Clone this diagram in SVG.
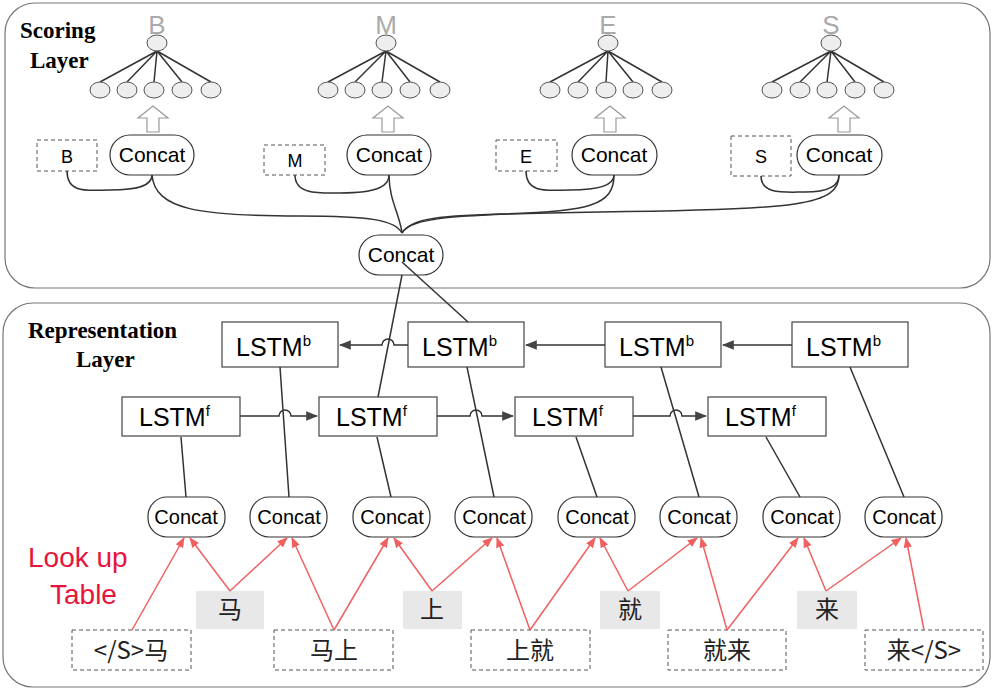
<svg xmlns="http://www.w3.org/2000/svg" width="995" height="690" viewBox="0 0 995 690">
<defs>
<marker id="ah" viewBox="0 0 10 10" refX="9" refY="5" markerWidth="8" markerHeight="8" orient="auto"><path d="M0,1 L10,5 L0,9 z" fill="#444"/></marker>
<marker id="ra" viewBox="0 0 10 10" refX="9" refY="5" markerWidth="7" markerHeight="7" orient="auto"><path d="M0,1 L10,5 L0,9 z" fill="#f06060"/></marker>
</defs>
<style>
.layer{fill:#fff;stroke:#777;stroke-width:1.2}
.t{font-family:"Liberation Sans",Arial,sans-serif;fill:#000}
.lt{font-family:"Liberation Serif",serif;font-weight:bold;font-size:23px}
.el{fill:#eee;stroke:#555;stroke-width:1}
.pill{fill:#fff;stroke:#333;stroke-width:1.2}
.dash{fill:#fff;stroke:#555;stroke-dasharray:4 3}
.box{fill:#fff;stroke:#444;stroke-width:1.2}
.ln{fill:none;stroke:#333;stroke-width:1.5}
.red{fill:none;stroke:#f06060;stroke-width:1.5;marker-end:url(#ra)}
.gray{fill:#e8e8e8}
.cjk{font-family:"Noto Sans CJK SC","Liberation Serif",serif;font-size:24px;fill:#222}
.up{fill:#fff;stroke:#999;stroke-width:1.2}
</style>
<rect class="layer" x="5" y="3" width="985" height="285" rx="30"/>
<rect class="layer" x="3" y="303" width="987" height="384" rx="30"/>
<text class="lt" x="20" y="38">Scoring</text>
<text class="lt" x="30" y="68">Layer</text>
<text class="lt" x="28" y="338">Representation</text>
<text class="lt" x="76" y="367">Layer</text>

<g id="scoreB">
<text class="t" x="157" y="34" font-size="26" style="fill:#aaa" text-anchor="middle">B</text>
<path class="ln" stroke-width="1.3" d="M157,51 L100,82 M157,51 L127,82 M157,51 L154,82 M157,51 L182,82 M157,51 L211,82"/>
<ellipse class="el" cx="157" cy="43" rx="10" ry="8"/>
<ellipse class="el" cx="100" cy="90" rx="10" ry="8"/><ellipse class="el" cx="127" cy="90" rx="10" ry="8"/><ellipse class="el" cx="154" cy="90" rx="10" ry="8"/><ellipse class="el" cx="182" cy="90" rx="10" ry="8"/><ellipse class="el" cx="211" cy="90" rx="10" ry="8"/>
<path class="up" d="M147,132 V118 H138 L153,106 L168,118 H159 V132 z"/>
<rect class="dash" x="37" y="140" width="60" height="31"/><text class="t" x="67" y="163" font-size="18" text-anchor="middle">B</text>
<rect class="pill" x="110" y="135" width="84" height="40" rx="20"/><text class="t" x="152" y="162" font-size="21" text-anchor="middle">Concat</text>
</g>
<g id="scoreM">
<text class="t" x="386" y="34" font-size="26" style="fill:#aaa" text-anchor="middle">M</text>
<path class="ln" stroke-width="1.3" d="M386,51 L328,82 M386,51 L355,82 M386,51 L382,82 M386,51 L410,82 M386,51 L440,82"/>
<ellipse class="el" cx="386" cy="43" rx="10" ry="8"/>
<ellipse class="el" cx="328" cy="90" rx="10" ry="8"/><ellipse class="el" cx="355" cy="90" rx="10" ry="8"/><ellipse class="el" cx="382" cy="90" rx="10" ry="8"/><ellipse class="el" cx="410" cy="90" rx="10" ry="8"/><ellipse class="el" cx="440" cy="90" rx="10" ry="8"/>
<path class="up" d="M382,132 V118 H373 L388,106 L403,118 H394 V132 z"/>
<rect class="dash" x="264" y="145" width="61" height="30"/><text class="t" x="295" y="167" font-size="18" text-anchor="middle">M</text>
<rect class="pill" x="347" y="135" width="84" height="40" rx="20"/><text class="t" x="389" y="162" font-size="21" text-anchor="middle">Concat</text>
</g>
<g id="scoreE">
<text class="t" x="608" y="34" font-size="26" style="fill:#aaa" text-anchor="middle">E</text>
<path class="ln" stroke-width="1.3" d="M608,51 L550,82 M608,51 L578,82 M608,51 L606,82 M608,51 L633,82 M608,51 L662,82"/>
<ellipse class="el" cx="608" cy="43" rx="10" ry="8"/>
<ellipse class="el" cx="550" cy="90" rx="10" ry="8"/><ellipse class="el" cx="578" cy="90" rx="10" ry="8"/><ellipse class="el" cx="606" cy="90" rx="10" ry="8"/><ellipse class="el" cx="633" cy="90" rx="10" ry="8"/><ellipse class="el" cx="662" cy="90" rx="10" ry="8"/>
<path class="up" d="M604,132 V118 H595 L610,106 L625,118 H616 V132 z"/>
<rect class="dash" x="496" y="140" width="61" height="31"/><text class="t" x="526" y="163" font-size="18" text-anchor="middle">E</text>
<rect class="pill" x="572" y="135" width="85" height="40" rx="20"/><text class="t" x="614" y="162" font-size="21" text-anchor="middle">Concat</text>
</g>
<g id="scoreS">
<text class="t" x="831" y="34" font-size="26" style="fill:#aaa" text-anchor="middle">S</text>
<path class="ln" stroke-width="1.3" d="M831,51 L772,82 M831,51 L800,82 M831,51 L827,82 M831,51 L855,82 M831,51 L884,82"/>
<ellipse class="el" cx="831" cy="43" rx="10" ry="8"/>
<ellipse class="el" cx="772" cy="90" rx="10" ry="8"/><ellipse class="el" cx="800" cy="90" rx="10" ry="8"/><ellipse class="el" cx="827" cy="90" rx="10" ry="8"/><ellipse class="el" cx="855" cy="90" rx="10" ry="8"/><ellipse class="el" cx="884" cy="90" rx="10" ry="8"/>
<path class="up" d="M838,132 V118 H829 L844,106 L859,118 H850 V132 z"/>
<rect class="dash" x="731" y="136" width="60" height="40"/><text class="t" x="761" y="163" font-size="18" text-anchor="middle">S</text>
<rect class="pill" x="797" y="135" width="85" height="40" rx="20"/><text class="t" x="839" y="162" font-size="21" text-anchor="middle">Concat</text>
</g>
<g id="centralConcat">
<rect class="pill" x="359" y="235" width="84" height="40" rx="20"/><text class="t" x="401" y="262" font-size="21" text-anchor="middle">Concat</text>
</g>

<g id="lstm">
<g class="t" font-size="25">
<rect class="box" x="222" y="322" width="116" height="45"/><text x="236" y="356">LSTM<tspan font-size="15" dy="-10">b</tspan></text>
<rect class="box" x="408" y="322" width="116" height="45"/><text x="422" y="356">LSTM<tspan font-size="15" dy="-10">b</tspan></text>
<rect class="box" x="605" y="322" width="116" height="45"/><text x="619" y="356">LSTM<tspan font-size="15" dy="-10">b</tspan></text>
<rect class="box" x="792" y="322" width="116" height="45"/><text x="806" y="356">LSTM<tspan font-size="15" dy="-10">b</tspan></text>
<rect class="box" x="122" y="397" width="118" height="39"/><text x="139" y="426">LSTM<tspan font-size="15" dy="-10">f</tspan></text>
<rect class="box" x="319" y="397" width="118" height="39"/><text x="336" y="426">LSTM<tspan font-size="15" dy="-10">f</tspan></text>
<rect class="box" x="515" y="397" width="118" height="39"/><text x="532" y="426">LSTM<tspan font-size="15" dy="-10">f</tspan></text>
<rect class="box" x="708" y="397" width="118" height="39"/><text x="725" y="426">LSTM<tspan font-size="15" dy="-10">f</tspan></text>
</g>
</g>
<g id="concats" class="t" font-size="20" text-anchor="middle">
<rect class="pill" x="148" y="497" width="77" height="40" rx="19"/><text x="186" y="524">Concat</text>
<rect class="pill" x="250" y="497" width="77" height="40" rx="19"/><text x="289" y="524">Concat</text>
<rect class="pill" x="353" y="497" width="77" height="40" rx="19"/><text x="392" y="524">Concat</text>
<rect class="pill" x="455" y="497" width="77" height="40" rx="19"/><text x="494" y="524">Concat</text>
<rect class="pill" x="558" y="497" width="77" height="40" rx="19"/><text x="597" y="524">Concat</text>
<rect class="pill" x="660" y="497" width="77" height="40" rx="19"/><text x="699" y="524">Concat</text>
<rect class="pill" x="763" y="497" width="77" height="40" rx="19"/><text x="802" y="524">Concat</text>
<rect class="pill" x="865" y="497" width="77" height="40" rx="19"/><text x="904" y="524">Concat</text>
</g>

<g id="lookup">
<text class="t" x="28" y="567" font-size="28" style="fill:#e8143c">Look up</text>
<text class="t" x="50" y="604" font-size="28" style="fill:#e8143c">Table</text>
<rect class="gray" x="196" y="591" width="68" height="38"/><text class="cjk" x="230" y="618" text-anchor="middle">马</text>
<rect class="gray" x="403" y="591" width="59" height="38"/><text class="cjk" x="432" y="618" text-anchor="middle">上</text>
<rect class="gray" x="600" y="591" width="60" height="38"/><text class="cjk" x="630" y="618" text-anchor="middle">就</text>
<rect class="gray" x="797" y="591" width="60" height="38"/><text class="cjk" x="827" y="618" text-anchor="middle">来</text>
<rect class="dash" x="72" y="630" width="119" height="40"/><text class="cjk" x="131" y="659" text-anchor="middle">&lt;/S&gt;马</text>
<rect class="dash" x="274" y="630" width="119" height="40"/><text class="cjk" x="334" y="659" text-anchor="middle">马上</text>
<rect class="dash" x="471" y="630" width="119" height="40"/><text class="cjk" x="530" y="659" text-anchor="middle">上就</text>
<rect class="dash" x="668" y="630" width="118" height="40"/><text class="cjk" x="727" y="659" text-anchor="middle">就来</text>
<rect class="dash" x="865" y="630" width="118" height="40"/><text class="cjk" x="924" y="659" text-anchor="middle">来&lt;/S&gt;</text>
</g>

<g id="connectors">
<path class="ln" d="M67,171 C67,195 90,190 110,190 C140,190 152,185 152,175"/>
<path class="ln" d="M295,175 C295,195 320,193 340,193 C380,193 389,185 389,175"/>
<path class="ln" d="M526,171 C526,195 550,190 570,190 C600,190 614,185 614,175"/>
<path class="ln" d="M761,176 C761,195 785,192 805,192 C830,192 839,185 839,175"/>
<path class="ln" d="M152,175 C155,210 200,216 300,216 C370,216 395,220 402,233"/>
<path class="ln" d="M389,175 C389,200 400,215 402,233"/>
<path class="ln" d="M614,175 C614,205 590,212 500,214 C430,216 410,220 402,233"/>
<path class="ln" d="M839,175 C839,205 800,210 600,212 C450,214 410,218 402,233"/>
<path class="ln" d="M402,275 L378,397"/>
<path class="ln" d="M402,262 L468,322"/>
<path class="ln" d="M408,345 H394 a6,6 0 0 0 -12,0 H340" marker-end="url(#ah)"/>
<path class="ln" d="M605,345 H526" marker-end="url(#ah)"/>
<path class="ln" d="M792,345 H723" marker-end="url(#ah)"/>
<path class="ln" d="M240,416 H279 a6,6 0 0 1 12,0 H317" marker-end="url(#ah)"/>
<path class="ln" d="M437,416 H470 a6,6 0 0 1 12,0 H513" marker-end="url(#ah)"/>
<path class="ln" d="M633,416 H670 a6,6 0 0 1 12,0 H706" marker-end="url(#ah)"/>
<path class="ln" d="M181,437 L186,497 M280,367 L289,497 M377,437 L391,497 M467,367 L494,497 M576,437 L597,497 M661,367 L699,497 M766,437 L800,497 M850,367 L904,497"/>
<path class="red" d="M132,630 L184,538"/>
<path class="red" d="M230,591 L190,538"/><path class="red" d="M230,591 L287,538"/>
<path class="red" d="M334,630 L292,538"/><path class="red" d="M334,630 L388,538"/>
<path class="red" d="M432,591 L394,538"/><path class="red" d="M432,591 L492,538"/>
<path class="red" d="M530,630 L497,538"/><path class="red" d="M530,630 L595,538"/>
<path class="red" d="M628,591 L600,538"/><path class="red" d="M628,591 L697,538"/>
<path class="red" d="M727,630 L701,538"/><path class="red" d="M727,630 L798,538"/>
<path class="red" d="M826,591 L804,538"/><path class="red" d="M826,591 L901,538"/>
<path class="red" d="M924,630 L906,538"/>
</g>
</svg>
